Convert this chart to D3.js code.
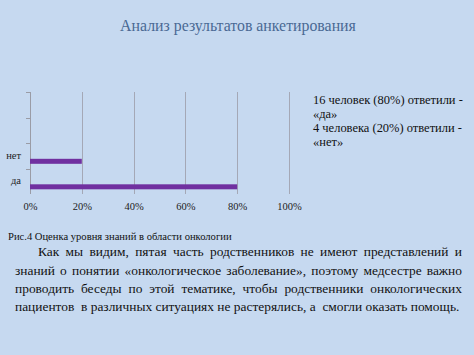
<!DOCTYPE html>
<html><head><meta charset="utf-8">
<script src="https://cdn.jsdelivr.net/npm/d3@7"></script>
<style>html,body{margin:0;padding:0;background:#c6d9f0;}svg{display:block;}</style>
</head><body>
<script>
const title = "Анализ результатов анкетирования";
const categories = ["нет", "да"];
const values = [0.2, 0.8];
const emptySlots = ["_e1", "_e2"];
const xTicks = [0, 0.2, 0.4, 0.6, 0.8, 1.0];
const noteLines = ["16 человек (80%) ответили -", "«да»", "4 человека (20%) ответили -", "«нет»"];
const caption = "Рис.4 Оценка уровня знаний в области онкологии";
const paragraph = [
  "Как мы видим, пятая часть родственников не имеют представлений и",
  "знаний о понятии «онкологическое заболевание», поэтому медсестре важно",
  "проводить беседы по этой тематике, чтобы родственники онкологических",
  "пациентов  в различных ситуациях не растерялись, а  смогли оказать помощь."
];

(function () {
const W = 474, H = 355;
const FONT = '"Liberation Serif", "Times New Roman", serif';
const svg = d3.select("body").append("svg").attr("width", W).attr("height", H);
svg.append("rect").attr("width", W).attr("height", H).attr("fill", "#c6d9f0");

function txt(parent, s, size, fill) {
  return parent.append("text").style("font-family", FONT).style("font-size", size + "px")
    .attr("fill", fill).text(s);
}
function fit(s, width, base) {
  const t = txt(svg, s, base, "none");
  const w = t.node().getComputedTextLength();
  t.remove();
  return Math.max(base * 0.8, Math.min(base * 1.2, base * width / w));
}

const titleSize = fit(title, 236, 17);
txt(svg, title, titleSize, "#4a6994").attr("x", 238).attr("y", 31).attr("text-anchor", "middle");

const x = d3.scaleLinear().domain([0, 1]).range([30, 289]);
const y = d3.scaleBand().domain([...emptySlots, ...categories]).range([92, 194]);
const plotTop = 92, plotBottom = 194;

svg.append("g").selectAll("line").data(xTicks.slice(1)).join("line")
  .attr("x1", d => Math.round(x(d)) + 0.5).attr("x2", d => Math.round(x(d)) + 0.5)
  .attr("y1", plotTop).attr("y2", plotBottom)
  .attr("stroke", "#a4a8b6").attr("stroke-width", 1);

svg.append("line").attr("x1", x(0) + 0.5).attr("x2", x(0) + 0.5).attr("y1", plotTop).attr("y2", plotBottom)
  .attr("stroke", "#9a9ca6");
const bounds = y.domain().map(d => y(d));
svg.append("g").selectAll("line").data(bounds).join("line")
  .attr("x1", x(0) - 4).attr("x2", x(0)).attr("y1", d => Math.round(d) + 0.5).attr("y2", d => Math.round(d) + 0.5)
  .attr("stroke", "#9a9ca6");

svg.append("g").selectAll("rect").data(categories).join("rect")
  .attr("x", x(0)).attr("y", d => y(d) + y.bandwidth() * 0.62)
  .attr("width", (d, i) => x(values[i]) - x(0)).attr("height", 5)
  .attr("fill", "#7030a0");

const gy = svg.append("g");
categories.forEach(c => {
  txt(gy, c, 10.5, "#222").attr("x", 21).attr("y", y(c) + y.bandwidth() / 2 + 3).attr("text-anchor", "end");
});

const xAxis = d3.axisBottom(x).tickValues(xTicks).tickFormat(d3.format(".0%")).tickSize(0).tickPadding(0);
const gx = svg.append("g").attr("transform", `translate(0,${plotBottom + 16})`).call(xAxis);
gx.select(".domain").remove();
gx.selectAll("text").style("font-family", FONT).style("font-size", "10.5px").attr("fill", "#222").attr("dy", 0);

const noteSize = fit(noteLines[2], 149, 12);
noteLines.forEach((s, i) => {
  txt(svg, s, noteSize, "#111").attr("x", 313).attr("y", 104 + i * 14);
});

const capSize = fit(caption, 224, 9.5);
txt(svg, caption, capSize, "#111").attr("x", 8).attr("y", 240);

const pg = svg.append("g");
const paraSize = fit(paragraph[3], 438, 14);
const lineY = [256, 275, 293, 311];
paragraph.forEach((line, li) => {
  const left = li === 0 ? 38 : 15, right = 462;
  if (li === 3) {
    txt(pg, line, paraSize, "#111").attr("x", left).attr("y", lineY[li]).style("white-space", "pre");
    return;
  }
  const words = line.split(/ +/);
  const els = words.map(w => txt(pg, w, paraSize, "#111").attr("y", lineY[li]));
  const widths = els.map(e => e.node().getComputedTextLength());
  const gap = (right - left - d3.sum(widths)) / (words.length - 1);
  let cx = left;
  els.forEach((e, i) => { e.attr("x", cx); cx += widths[i] + gap; });
});
})();
</script>
</body></html>
